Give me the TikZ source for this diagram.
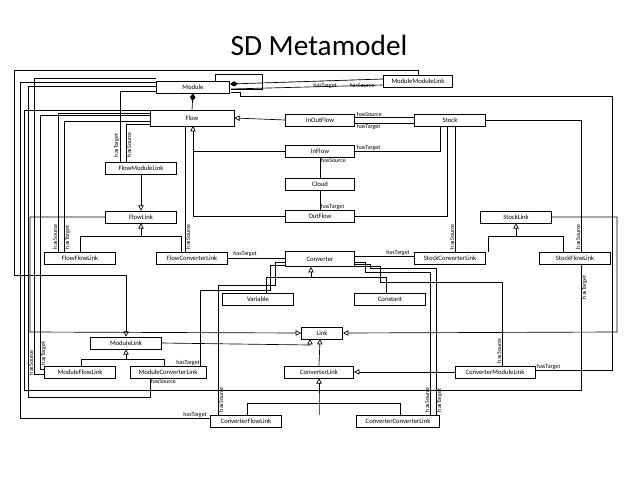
\documentclass[tikz,border=0pt]{standalone}
\usepackage{fontspec}
\setmainfont{Carlito}
\usetikzlibrary{arrows.meta}
\begin{document}
\begin{tikzpicture}[x=0.75pt,y=-0.75pt,
  cls/.style={draw,fill=white,minimum height=9pt,inner sep=0pt,font=\fontsize{5}{6}\selectfont},
  w/.style={line width=0.5pt},
  inh/.style={w,-{Triangle[open,length=4pt,width=4pt]}},
  comp/.style={w,-{Diamond[length=6pt,width=4pt]}},
  lb/.style={font=\fontsize{4.5}{5}\selectfont,inner sep=0.5pt},
  vl/.style={lb,rotate=90}]
\useasboundingbox (0,0) rectangle (638,478);
\node[font=\fontsize{22}{26}\selectfont] (title) at (319,45) {SD Metamodel};
% classes
\node[cls,minimum width=55pt] (Module) at (193,87) {Module};
\node[cls,minimum width=52pt] (MML) at (418,81) {ModuleModuleLink};
\node[cls,minimum width=63pt,minimum height=12pt] (Flow) at (192,118) {Flow};
\node[cls,minimum width=52pt] (IOF) at (320,120) {InOutFlow};
\node[cls,minimum width=53pt] (Stock) at (450,120) {Stock};
\node[cls,minimum width=52pt] (InFlow) at (320,151) {InFlow};
\node[cls,minimum width=52pt] (Cloud) at (320,184) {Cloud};
\node[cls,minimum width=52pt] (OutFlow) at (320,216) {OutFlow};
\node[cls,minimum width=53pt] (FML) at (141,168) {FlowModuleLink};
\node[cls,minimum width=53pt] (FL) at (141,217) {FlowLink};
\node[cls,minimum width=53pt] (FFL) at (80,258) {FlowFlowLink};
\node[cls,minimum width=53pt] (FCL) at (192,258) {FlowConverterLink};
\node[cls,minimum width=52pt,minimum height=11pt] (Conv) at (320,259) {Converter};
\node[cls,minimum width=53pt] (SCL) at (450,258) {StockConverterLink};
\node[cls,minimum width=53pt] (SL) at (516,217) {StockLink};
\node[cls,minimum width=53pt] (SFL) at (575,258) {StockFlowLink};
\node[cls,minimum width=53pt] (Var) at (258,299) {Variable};
\node[cls,minimum width=53pt] (Const) at (390,299) {Constant};
\node[cls,minimum width=31pt] (Link) at (322,333) {Link};
\node[cls,minimum width=53pt] (ML) at (126,343) {ModuleLink};
\node[cls,minimum width=53pt] (MFL) at (80,372) {ModuleFlowLink};
\node[cls,minimum width=57pt] (MCL) at (168,372) {ModuleConverterLink};
\node[cls,minimum width=52pt] (CL) at (319,372) {ConverterLink};
\node[cls,minimum width=60pt] (CML) at (495,372) {ConverterModuleLink};
\node[cls,minimum width=53pt] (CFL) at (246,421) {ConverterFlowLink};
\node[cls,minimum width=62pt] (CCL) at (398,421) {ConverterConverterLink};
% inheritance
\draw[inh] (IOF.west) -- (Flow.east);
\draw[inh] (InFlow.west) -- (193,151) -- (193,126);
\draw[w] (OutFlow.west) -- (193,216) -- (193,151);
\draw[inh] (FML.south) -- (FL.north);
\draw[inh] (80,252) -- (80,236) -- (141,236) -- (FL.south);
\draw[w] (181,252) -- (181,236) -- (141,236);
\draw[inh] (488,252) -- (488,236) -- (516,236) -- (SL.south);
\draw[w] (563,252) -- (563,236) -- (516,236);
\draw[inh] (266,293) -- (266,277) -- (311,277) -- (311,267);
\draw[w] (386,293) -- (386,277) -- (311,277);
\draw[inh] (81,366) -- (81,359) -- (126,359) -- (ML.south);
\draw[w] (164,366) -- (164,359) -- (126,359);
\draw[inh] (319,415) -- (319,403) -- (CL.south);
\draw[w] (247,415) -- (247,403) -- (400,403) -- (400,415);
\draw[inh] (CML.west) -- (CL.east);
\draw[inh] (CL.north) -- (320,339);
\draw[inh] (ML.east) -- (310,345) -- (310,339);
\draw[inh] (FL.west) -- (30,217) -- (30,332) -- (Link.west);
\draw[inh] (SL.east) -- (617,217) -- (617,332) -- (Link.east);
\draw[inh] (MML.north) -- (418,70) -- (14,70) -- (14,275) -- (126,275) -- (ML.north);
% composition
\draw[comp,fill=black] (Flow.north) -- (Module.south);
\draw[comp,fill=black] (383,79) -- (230,84);
\draw[w] (383,85) -- (231,89);
\node[lb,anchor=south] (lt1) at (325,89) {hasTarget};
\node[lb,anchor=south] (ls1) at (362,88) {hasSource};
\draw[w] (215,81) -- (215,74) -- (262,74) -- (262,89) -- (231,89);
% flow module link
\draw[w] (120,162) -- (120,91) -- (156,91);
\draw[w] (126,162) -- (126,124) -- (150,124);
\node[vl,anchor=south west] (l2) at (120,158) {hasTarget};
\node[vl,anchor=north west] (l3) at (126,158) {hasSource};
% flowflowlink
\draw[w] (58,252) -- (58,113) -- (150,113);
\draw[w] (64,252) -- (64,121) -- (150,121);
\node[vl,anchor=south west] (l4) at (58,250) {hasSource};
\node[vl,anchor=north west] (l5) at (64,250) {hasTarget};
% flowconverterlink
\draw[w] (185,252) -- (185,126);
\node[vl,anchor=north west] (l6) at (185,250) {hasSource};
\draw[w] (FCL.east) -- (285,258);
\node[lb,anchor=south] (l7) at (245,257) {hasTarget};
% inoutflow / stock
\draw[w] (355,117) -- (415,117);
\draw[w] (355,123) -- (415,123);
\node[lb,anchor=south west] (l8) at (356,117) {hasSource};
\node[lb,anchor=north west] (l9) at (356,123) {hasTarget};
\draw[w] (InFlow.east) -- (440,151) -- (440,126);
\node[lb,anchor=south west] (l10) at (356,151) {hasTarget};
\draw[w] (InFlow.south) -- (Cloud.north);
\node[lb,anchor=north west] (l11) at (320,157) {hasSource};
\draw[w] (Cloud.south) -- (OutFlow.north);
\node[lb,anchor=south west] (l12) at (320,210) {hasTarget};
\draw[w] (OutFlow.east) -- (447,216) -- (447,126);
% stock converter link
\draw[w] (455,252) -- (455,126);
\node[vl,anchor=south west] (l13) at (455,250) {hasSource};
\draw[w] (355,256) -- (415,256);
\node[lb,anchor=south] (l14) at (398,256) {hasTarget};
% stock flow link
\draw[w] (581,252) -- (581,120) -- (Stock.east);
\node[vl,anchor=south west] (l15) at (581,250) {hasSource};
\draw[w] (581,264) -- (581,390) -- (24,390) -- (24,110) -- (150,110);
\node[vl,anchor=north west] (l16) at (581,300) {hasTarget};
% converter module link
\draw[w] (502,366) -- (502,282) -- (380,282) -- (380,266) -- (355,266);
\node[vl,anchor=south west] (l17) at (502,364) {hasSource};
\draw[w] (535,370) -- (612,370) -- (612,96) -- (240,96) -- (240,92) -- (231,92);
\node[lb,anchor=south west] (l18) at (536,370) {hasTarget};
% converter converter link
\draw[w] (430,415) -- (430,272) -- (365,272) -- (365,262) -- (355,262);
\draw[w] (436,415) -- (436,268) -- (370,268) -- (370,264) -- (355,264);
\node[vl,anchor=south west] (l19) at (430,413) {hasSource};
\node[vl,anchor=north west] (l20) at (436,413) {hasTarget};
% converter flow link
\draw[w] (218,415) -- (218,285) -- (275,285) -- (275,262) -- (285,262);
\node[vl,anchor=north west] (l21) at (218,413) {hasSource};
\draw[w] (211,418) -- (20,418) -- (20,82) -- (156,82);
\node[lb,anchor=south] (l22) at (195,418) {hasTarget};
% module converter link
\draw[w] (200,366) -- (200,290) -- (270,290) -- (270,265) -- (285,265);
\node[lb,anchor=south] (l23) at (188,366) {hasTarget};
\draw[w] (150,378) -- (150,397) -- (28,397) -- (28,86) -- (156,86);
\node[lb,anchor=north west] (l24) at (150,378) {hasSource};
% module flow link
\draw[w] (45,374) -- (34,374) -- (34,78) -- (156,78);
\draw[w] (45,369) -- (40,369) -- (40,115) -- (150,115);
\node[vl,anchor=south west] (l25) at (34,376) {hasSource};
\node[vl,anchor=north west] (l26) at (40,366) {hasTarget};
\end{tikzpicture}
\end{document}
